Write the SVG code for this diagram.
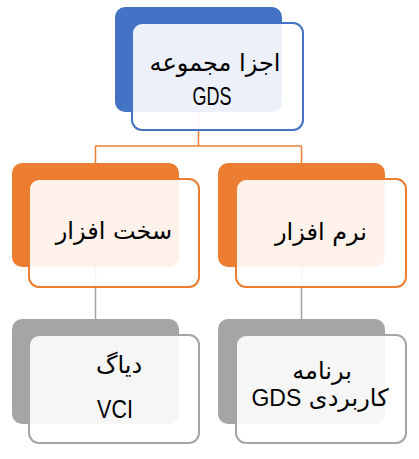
<svg xmlns="http://www.w3.org/2000/svg" width="419" height="459" viewBox="0 0 419 459">
<style>
.bg{fill:#ffffff}
.back{stroke:none}
.front{fill:#ffffff;fill-opacity:0.9;stroke-width:2}
.ar{font-family:"DejaVu Sans","Liberation Sans",sans-serif;font-size:24px;fill:#000;text-anchor:middle}
.la{font-family:"Liberation Sans","DejaVu Sans",sans-serif;font-size:25px;fill:#000;text-anchor:middle}
.conn{fill:none;stroke-width:1.5}
</style>
<rect class="bg" x="0" y="0" width="419" height="459"/>
<g id="connectors">
<path class="conn" stroke="#ED7D31" d="M198.5 112 V146 M95.5 146 H301.5 M95.5 146 V163 M301.5 146 V163"/>
<path class="conn" stroke="#A5A5A5" d="M95.5 267 V319 M301.5 267 V319"/>
</g>
<g id="node-root">
<rect class="back" x="115" y="7" width="167" height="105" rx="10" fill="#4472C4"/>
<rect class="front" x="132" y="23" width="171" height="107" rx="10" stroke="#4472C4"/>
<text class="ar" x="215" y="71">اجزا مجموعه</text>
<text class="la" transform="translate(212,105) scale(0.72,1)">GDS</text>
</g>
<g id="node-hardware">
<rect class="back" x="12" y="163" width="167" height="104" rx="10" fill="#ED7D31"/>
<rect class="front" x="29" y="179" width="170" height="108" rx="10" stroke="#ED7D31"/>
<text class="ar" x="114" y="239">سخت افزار</text>
</g>
<g id="node-software">
<rect class="back" x="218" y="163" width="167" height="104" rx="10" fill="#ED7D31"/>
<rect class="front" x="236" y="179" width="170" height="108" rx="10" stroke="#ED7D31"/>
<text class="ar" x="321" y="240">نرم افزار</text>
</g>
<g id="node-diag">
<rect class="back" x="12" y="319" width="167" height="105" rx="10" fill="#A5A5A5"/>
<rect class="front" x="29" y="335" width="170" height="108" rx="10" stroke="#A5A5A5"/>
<text class="ar" x="119" y="373">دیاگ</text>
<text class="la" transform="translate(115,418) scale(0.86,1)">VCI</text>
</g>
<g id="node-app">
<rect class="back" x="218" y="319" width="167" height="105" rx="10" fill="#A5A5A5"/>
<rect class="front" x="236" y="335" width="170" height="108" rx="10" stroke="#A5A5A5"/>
<text class="ar" x="322" y="379">برنامه</text>
<text class="ar" x="320" y="406" direction="rtl" style="unicode-bidi:embed">کاربردی <tspan font-family="Liberation Sans" font-size="23">GDS</tspan></text>
</g>
</svg>
